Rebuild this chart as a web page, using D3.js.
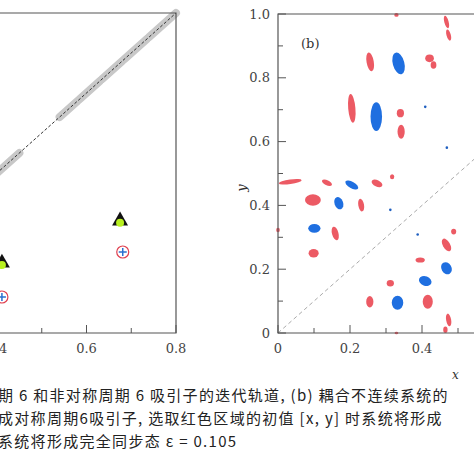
<!DOCTYPE html>
<html><head><meta charset="utf-8">
<script src="https://cdn.jsdelivr.net/npm/d3@7"></script>
<style>body{margin:0;background:#fff}svg{display:block}</style></head>
<body><svg width="474" height="474"></svg>
<script>
// Left panel markers
const leftTriangles = [[0.675,0.278],[0.411,0.1725]];
const leftCircles = [[0.681,0.2025],[0.411,0.09]];
// grey segments along diagonal (x ranges)
const greySegs = [[0.39,0.45],[0.54,0.58],[0.585,0.63],[0.635,0.68],[0.685,0.735],[0.74,0.8]];
const leftXTicks = [0.4,0.6,0.8];
const leftXMinor = [0.5,0.7];
// Right panel blobs: [x,y,rx,ry,angle]
const blueBlobs = [[0.335,0.845,0.016,0.035,-15],[0.273,0.678,0.016,0.045,0],[0.205,0.464,0.02,0.01,30],
 [0.169,0.407,0.012,0.02,-20],[0.101,0.328,0.017,0.014,0],[0.468,0.203,0.014,0.02,-30],
 [0.409,0.163,0.018,0.015,20],[0.332,0.095,0.016,0.022,0]];
const blueDots = [[0.409,0.709],[0.469,0.581],[0.312,0.386],[0.388,0.309]];
const redBlobs = [[0.329,0.997,0.006,0.006,0],[0.468,0.975,0.006,0.02,-15],[0.474,0.934,0.006,0.018,-15],
 [0.256,0.85,0.01,0.03,-10],[0.421,0.861,0.012,0.012,0],[0.432,0.84,0.008,0.012,0],
 [0.205,0.704,0.01,0.045,-5],[0.340,0.689,0.01,0.013,0],[0.342,0.631,0.01,0.022,0],
 [0.034,0.474,0.032,0.007,-8],[0.136,0.471,0.015,0.008,25],[0.275,0.469,0.016,0.01,25],
 [0.317,0.49,0.006,0.008,0],[0.097,0.417,0.022,0.018,0],[0.231,0.401,0.008,0.02,-10],
 [0.0,0.323,0.005,0.007,0],[0.159,0.312,0.009,0.022,-15],[0.099,0.25,0.014,0.013,0],
 [0.468,0.276,0.01,0.022,-30],[0.488,0.318,0.007,0.009,0],[0.395,0.229,0.013,0.008,0],
 [0.312,0.156,0.01,0.01,0],[0.255,0.098,0.01,0.018,0],[0.416,0.098,0.014,0.022,0],
 [0.474,0.041,0.007,0.02,-10],[0.329,0.0,0.005,0.004,0],[0.465,0.01,0.006,0.01,0]];
const rightTicks = [0,0.2,0.4,0.6,0.8,1.0];
const rightMinor = [0.1,0.3,0.5,0.7,0.9];
const rightXTicks = [0,0.2,0.4];
const rightXMinor = [0.1,0.3,0.5];
const captionLines = ["期 6 和非对称周期 6 吸引子的迭代轨道, (b) 耦合不连续系统的",
 "成对称周期6吸引子, 选取红色区域的初值 [x, y] 时系统将形成",
 "系统将形成完全同步态 ε = 0.105"];

const svg = d3.select("svg");
const serif = "'DejaVu Serif','Liberation Serif',serif";
const frame = "#555";
// LEFT
const lx = d3.scaleLinear().domain([0.4,0.8]).range([-3,176]);
const ly = d3.scaleLinear().domain([0,0.8]).range([333,13]);
const L = svg.append("g");
L.selectAll(".gs").data(greySegs).join("line")
 .attr("x1",d=>lx(d[0])).attr("y1",d=>ly(d[0])).attr("x2",d=>lx(d[1])).attr("y2",d=>ly(d[1]))
 .attr("stroke","#c8c8c8").attr("stroke-width",8).attr("stroke-linecap","round");
L.append("line").attr("x1",lx(0.39)).attr("y1",ly(0.39)).attr("x2",lx(0.8)).attr("y2",ly(0.8))
 .attr("stroke","#333").attr("stroke-width",1).attr("stroke-dasharray","3,2");
L.append("path").attr("d",`M${lx(0.39)},${ly(0.8)}H${lx(0.8)}V${ly(0)}H${lx(0.39)}`)
 .attr("fill","none").attr("stroke",frame).attr("stroke-width",1.2);
L.selectAll(".lt").data(leftXTicks).join("line").attr("x1",d=>lx(d)).attr("x2",d=>lx(d))
 .attr("y1",ly(0)).attr("y2",ly(0)-8).attr("stroke",frame);
L.selectAll(".lm").data(leftXMinor).join("line").attr("x1",d=>lx(d)).attr("x2",d=>lx(d))
 .attr("y1",ly(0)).attr("y2",ly(0)-5).attr("stroke",frame);
L.selectAll(".ll").data(leftXTicks).join("text").attr("x",d=>lx(d)).attr("y",353)
 .attr("text-anchor","middle").attr("font-family",serif).attr("font-size",13).attr("fill","#444").text(d=>d.toFixed(1));
const tri = d3.symbol().type(d3.symbolTriangle).size(110);
L.selectAll(".tr").data(leftTriangles).join("path").attr("d",tri)
 .attr("transform",d=>`translate(${lx(d[0])},${ly(d[1])-1})`).attr("fill","#111");
L.selectAll(".gc").data(leftTriangles).join("circle").attr("cx",d=>lx(d[0])).attr("cy",d=>ly(d[1])+1)
 .attr("r",4).attr("fill","#b8f020");
L.selectAll(".rc").data(leftCircles).join("circle").attr("cx",d=>lx(d[0])).attr("cy",d=>ly(d[1]))
 .attr("r",6).attr("fill","#fff").attr("stroke","#e04050").attr("stroke-width",1.2);
L.selectAll(".pl").data(leftCircles).join("path")
 .attr("d",d=>`M${lx(d[0])-4},${ly(d[1])}h8M${lx(d[0])},${ly(d[1])-4}v8`)
 .attr("stroke","#2a70d0").attr("stroke-width",1.5);
// RIGHT
const rx = d3.scaleLinear().domain([0,1]).range([278,638]);
const ry = d3.scaleLinear().domain([0,1]).range([333,14]);
const R = svg.append("g");
R.append("line").attr("x1",rx(0)).attr("y1",ry(0)).attr("x2",rx(0.6)).attr("y2",ry(0.6))
 .attr("stroke","#aaa").attr("stroke-width",1).attr("stroke-dasharray","4,3");
const ell = (sel,data,col)=>sel.selectAll(null).data(data).join("ellipse")
 .attr("cx",d=>rx(d[0])).attr("cy",d=>ry(d[1])).attr("rx",d=>d[2]*360).attr("ry",d=>d[3]*319)
 .attr("transform",d=>`rotate(${d[4]},${rx(d[0])},${ry(d[1])})`).attr("fill",col);
ell(R,redBlobs,"#ec5a64");
ell(R,blueBlobs,"#1f6fe0");
R.selectAll(".bd").data(blueDots).join("circle").attr("cx",d=>rx(d[0])).attr("cy",d=>ry(d[1])).attr("r",1.3).attr("fill","#1f5fc0");
R.append("path").attr("d",`M${rx(0.55)},${ry(1)}H${rx(0)}V${ry(0)}H${rx(0.55)}`)
 .attr("fill","none").attr("stroke",frame).attr("stroke-width",1.2);
R.selectAll(".yt").data(rightTicks).join("line").attr("x1",rx(0)).attr("x2",rx(0)+8).attr("y1",d=>ry(d)).attr("y2",d=>ry(d)).attr("stroke",frame);
R.selectAll(".ym").data(rightMinor).join("line").attr("x1",rx(0)).attr("x2",rx(0)+5).attr("y1",d=>ry(d)).attr("y2",d=>ry(d)).attr("stroke",frame);
R.selectAll(".xt").data(rightXTicks).join("line").attr("x1",d=>rx(d)).attr("x2",d=>rx(d)).attr("y1",ry(0)).attr("y2",ry(0)-8).attr("stroke",frame);
R.selectAll(".xm").data(rightXMinor).join("line").attr("x1",d=>rx(d)).attr("x2",d=>rx(d)).attr("y1",ry(0)).attr("y2",ry(0)-5).attr("stroke",frame);
R.selectAll(".yl").data(rightTicks).join("text").attr("x",270).attr("y",d=>ry(d)+4.5).attr("text-anchor","end")
 .attr("font-family",serif).attr("font-size",13).attr("fill","#444").text(d=>d===0?"0":d.toFixed(1));
R.selectAll(".xl").data(rightXTicks).join("text").attr("x",d=>rx(d)).attr("y",353).attr("text-anchor","middle")
 .attr("font-family",serif).attr("font-size",13).attr("fill","#444").text(d=>d===0?"0":d.toFixed(1));
R.append("text").attr("x",301).attr("y",48).attr("font-family",serif).attr("font-size",13).attr("fill","#333").text("(b)");
R.append("text").attr("x",246).attr("y",188).attr("font-family",serif).attr("font-style","italic").attr("font-size",13)
 .attr("fill","#333").attr("transform","rotate(-90,246,188)").attr("text-anchor","middle").text("y");
R.append("text").attr("x",452).attr("y",379).attr("font-family",serif).attr("font-style","italic").attr("font-size",12).attr("fill","#333").text("x");
// caption
svg.selectAll(".cap").data(captionLines).join("text").attr("x",-2).attr("y",(d,i)=>[401,424,447][i])
 .attr("font-family","'Noto Sans CJK SC',serif").attr("font-size",15).attr("letter-spacing",1.3).attr("fill","#222").text(d=>d);
</script></body></html>
